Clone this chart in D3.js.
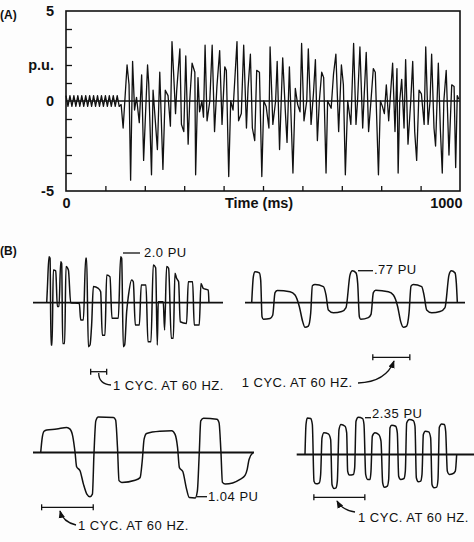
<!DOCTYPE html>
<meta charset="utf-8">
<html>
<head>
  <title>Arc voltage waveforms</title>
  <style>
    body { margin: 0; background: #fff; }
    svg { display: block; width: 474px; height: 542px; background: #fdfdfd; }
    .bold { font-family: 'Liberation Sans', Arial, sans-serif; font-weight: bold; font-size: 14.5px; fill: #111; }
    .tag { font-family: 'Liberation Sans', Arial, sans-serif; font-weight: bold; font-size: 12px; fill: #111; }
    .note { font-family: 'Liberation Sans', Arial, sans-serif; font-size: 13px; letter-spacing: 0.5px; fill: #111; }
    .trace { fill: none; stroke: #111; stroke-width: 1.3px; stroke-linejoin: round; }
    .btrace { fill: none; stroke: #111; stroke-width: 1.5px; stroke-linejoin: round; }
    .base { stroke: #111; stroke-width: 1.8px; }
    .thin { fill: none; stroke: #111; stroke-width: 1.3px; }
  </style>
  <script src="https://d3js.org/d3.v7.min.js"></script>
</head>
<body>
<svg></svg>
<script>

  // ---- panel A: p.u. voltage against time (ms), read as turning points ----
  var aTimes = [0,5,10,15,20,25,30,35,40,45,50,55,60,65,70,75,80,85,90,95,100,105,110,115,120,125,130,135,140,
    145,155,160,164,169,174,179,186,192,197,207,210,217,221,227,232,238,246,252,259,265,269,273,278,281,289,
    293,299,304,310,314,320,327,329,335,339,345,349,353,358,365,371,377,383,390,396,403,407,413,418,424,
    434,438,445,451,458,462,468,473,479,484,491,497,502,508,515,518,525,532,536,542,550,557,561,567,576,
    582,588,594,598,604,611,615,622,628,633,638,643,649,654,660,664,673,679,685,692,699,704,709,715,723,
    730,736,740,746,753,757,762,768,774,780,785,793,798,803,808,813,819,829,835,840,843,847,852,858,862,
    868,875,880,885,890,896,902,909,913,919,924,928,934,938,945,950,955,959,965,972,979,985,989,993,997];
  var aValues = [0.3,-0.3,0.3,-0.3,0.3,-0.3,0.3,-0.3,0.3,-0.3,0.3,-0.3,0.3,-0.3,0.3,-0.3,0.3,-0.3,0.3,-0.3,0.3,-0.3,0.3,-0.3,0.3,-0.3,0.3,-0.3,-0.2,
    -1.5,2.0,0.9,-4.4,2.2,-0.5,0.2,-1.2,1.45,-3.3,2.0,0.95,-4.1,0.6,-1.2,-2.7,1.6,-3.8,0.6,0.3,-1.4,3.3,
    1.6,-0.7,0.6,2.9,-1.3,-1.7,2.5,-2.4,0,2.1,1.6,-4.1,1.3,-0.6,0,-0.9,3.1,-1.1,0,3.1,-1.7,0.8,2.8,-1.3,
    1.9,1.7,-4.2,0,-0.5,3.3,-1.1,-0.7,3.1,-1.5,0.7,2.6,-1.5,-2.2,1.7,1.6,-4.2,0,-0.3,-1.5,3.0,-1.3,0,2.2,
    -2.7,2.4,-0.7,-2.3,1.9,-4.0,0.7,-0.2,-0.6,3.2,-1.1,0,2.9,-1.3,0.4,2.3,-2.2,0,1.6,1.3,-4.0,0,-0.4,1.5,
    2.6,-1.7,2.0,0.9,-4.1,0,-1.3,3.2,-1.3,0,3.0,-1.5,0.4,2.7,-1.7,0,1.8,1.6,-4.1,0,-0.3,-0.7,0.9,-1.1,2.1,
    -1.7,1.8,-4.0,0,1.2,-1.5,2.3,-2.4,0,2.2,-1.7,-3.3,0.6,0.4,-1.3,3.0,-1.3,0,2.6,-1.5,-2.5,2.1,-1.5,-4.0,
    0,1.7,-3.0,0.9,0.8,-3.7,0.3,0.1];

  var yTickValues = [-4, -3, -2, -1, 1, 2, 3, 4];
  var yLabelValues = [5, 2, 0, -5];
  var yLabelText = ["5", "p.u.", "0", "-5"];
  var xTickValues = [100, 200, 300, 400, 500, 600, 700, 800, 900];
  var xLabelValues = [0, 1000];
  var xTitle = "Time (ms)";

  // ---- panel B: four traces, time in ms and value in PU ----
  var b1Times = [0,0.7,2.4,3.5,4.5,5.6,6.9,9.4,11.1,12.8,14.6,15.6,16.7,18.7,20.1,22.6,25.0,34.0,35.4,38.2,
    40.6,41.6,43.4,45.1,46.8,48.6,53.8,56.2,57.9,60.7,62.5,65.9,68.0,74.6,77.0,78.1,79.8,81.2,83.3,85.0,
    88.5,90.2,92.3,96.5,98.5,103.4,105.5,108.6,111.0,113.5,115.2,116.2,121.4,122.8,124.9,127.0,129.8,
    131.9,133.6,135.3,137.4,139.1,145.7,147.5,152.0,153.7,158.9,160.7,163.1,168.3,169.0];
  var b1Values = [0,0.62,2.0,1.93,-1.84,-1.84,1.42,1.38,-0.17,-0.17,1.78,1.71,-1.77,-1.77,1.57,1.42,0,-0.03,
    -0.75,-0.75,1.93,1.93,-1.91,-1.84,-0.97,0.70,0.62,0.48,-1.41,-1.41,1.20,1.13,-0.68,-0.68,2.0,1.93,
    -1.91,-1.84,-0.39,0.26,0.99,0.91,-0.97,-0.97,0.77,0.77,-1.70,-1.70,1.64,1.52,-1.84,0.04,0.04,-1.19,
    1.57,1.49,-1.55,-1.55,1.28,1.06,0.91,-0.83,-0.90,0.91,0.91,-0.97,-0.97,0.84,0.62,0.55,0];

  var b2Times = [0,0.75,1.5,3.45,4.05,4.65,5.25,8.25,9.45,10.5,11.55,17.25,19.5,21.45,22.95,24,25.5,26.55,
    27.3,28.5,32.25,33.45,34.5,36.75,40.5,42.45,44.25,45.3,46.95,47.7,48.45,49.05,52.5,53.7,54.75,55.8,
    61.5,63.75,65.7,67.05,68.25,69.75,70.8,71.7,72.75,76.5,77.55,78.75,81,84.75,87,88.8,89.85,91.5,92.1,92.55];
  var b2Values = [0,0.65,0.77,0.74,0.56,-0.35,-0.41,-0.39,-0.31,0.25,0.30,0.27,0.19,-0.10,-0.47,-0.61,-0.58,
    -0.26,0.42,0.45,0.40,0.19,-0.18,-0.25,-0.22,-0.12,0.69,0.79,0.74,0.48,-0.35,-0.41,-0.37,-0.29,0.25,
    0.31,0.27,0.19,-0.10,-0.47,-0.61,-0.58,-0.26,0.41,0.45,0.40,0.19,-0.18,-0.25,-0.22,-0.12,0.69,0.79,
    0.74,0.48,0];

  var b3Times = [0,0.43,1.08,1.94,5.17,8.4,9.48,10.34,11.1,11.6,12.7,13.8,14.9,15.9,16.7,17.2,17.8,18.6,
    23.5,24.2,24.8,25.3,26.2,30.5,32.1,32.8,33.4,34.2,38.5,42.3,43.4,44.2,44.8,45.9,47.0,48.0,49.9,50.6,
    51.2,51.7,52.6,56.9,57.6,58.2,58.7,59.6,64.4,66.0,66.7,67.3,68.6];
  var b3Values = [0,0.31,0.49,0.52,0.54,0.58,0.54,0.38,0,-0.33,-0.42,-0.73,-0.96,-1.02,-0.96,-0.04,0.73,0.82,
    0.81,0.75,0.12,-0.65,-0.69,-0.64,-0.58,-0.19,0.31,0.44,0.49,0.50,0.42,0.12,-0.35,-0.44,-0.81,-1.04,
    -1.05,-0.89,-0.04,0.73,0.79,0.77,0.69,0.04,-0.69,-0.73,-0.62,-0.53,-0.39,-0.16,0];

  var b4Times = [0,0.33,0.76,1.85,2.40,2.94,3.60,4.69,5.12,5.56,6.21,7.63,8.39,8.83,9.48,10.14,10.57,11.12,
    11.77,13.08,13.63,13.95,14.50,15.81,16.24,16.68,17.44,18.86,19.29,19.84,20.49,21.26,21.58,22.02,22.89,
    24.09,24.85,25.40,25.94,26.92,27.36,27.80,28.34,29.65,30.19,30.63,31.28,32.37,32.81,33.25,34.12,35.43,
    35.97,36.41,37.06,37.82,38.26,38.70,39.35,40.44,41.09,41.53,42.18,43.06,43.49,43.93,44.69,45.56,46.00,
    46.54,47.20,48.29,49.16,49.60];
  var b4Values = [0,1.91,2.33,2.29,1.91,-1.70,-1.87,-1.80,-1.27,1.06,1.38,1.31,0.95,-1.91,-2.16,-2.12,-1.70,
    1.59,1.91,1.80,1.38,-1.06,-1.31,-1.27,-0.85,2.12,2.37,2.29,1.91,-1.27,-1.59,-1.59,-1.06,1.17,1.38,1.27,
    0.85,-1.80,-2.08,-2.01,-1.59,1.70,1.87,1.80,1.38,-1.38,-1.59,-1.53,-1.06,2.01,2.23,2.16,1.80,-1.48,
    -1.74,-1.70,-1.27,1.27,1.48,1.44,1.06,-1.91,-2.12,-2.08,-1.59,1.74,1.95,1.91,1.48,-1.06,-1.27,-1.23,
    -1.06,0];

  var peakNotes = ["2.0 PU", ".77 PU", "1.04 PU", "2.35 PU"];
  var cycleNote = "1 CYC. AT 60 HZ.";
  var cycleMs = 1000 / 60;

  var svg = d3.select("svg").attr("viewBox", "0 0 474 542");

  svg.append("defs").append("marker")
    .attr("id", "arrow")
    .attr("viewBox", "0 0 10 10")
    .attr("refX", 9).attr("refY", 5)
    .attr("markerWidth", 6).attr("markerHeight", 6)
    .attr("orient", "auto")
    .append("path").attr("d", "M0,1 L10,5 L0,9 z").attr("fill", "#111");

  // ================= panel A =================
  var xA = d3.scaleLinear().domain([0, 1000]).range([66, 460]);
  var yA = d3.scaleLinear().domain([-5, 5]).range([191, 11]);

  svg.append("text").attr("class", "tag").attr("x", 0).attr("y", 19).text("(A)");

  // inward ticks on the left and bottom
  svg.append("g")
    .attr("transform", "translate(66,0)")
    .call(d3.axisLeft(yA).tickValues(yTickValues).tickSize(-6).tickFormat(""))
    .call(function(g) { g.select(".domain").remove(); })
    .selectAll("line").attr("stroke", "#111").attr("stroke-width", 1.3);

  svg.append("g")
    .attr("transform", "translate(0,191)")
    .call(d3.axisBottom(xA).tickValues(xTickValues).tickSize(-5).tickFormat(""))
    .call(function(g) { g.select(".domain").remove(); })
    .selectAll("line").attr("stroke", "#111").attr("stroke-width", 1.3);

  // tick labels
  var yLab = svg.append("g")
    .attr("transform", "translate(66,0)")
    .call(d3.axisLeft(yA).tickValues(yLabelValues).tickSize(0).tickPadding(12)
      .tickFormat(function(d, i) { return yLabelText[i]; }));
  yLab.select(".domain").remove();
  yLab.selectAll("text").attr("class", "bold").attr("font-family", null).attr("font-size", null);

  var xLab = svg.append("g")
    .attr("transform", "translate(0,191)")
    .call(d3.axisBottom(xA).tickValues(xLabelValues).tickSize(0).tickPadding(7)
      .tickFormat(function(d) { return String(d); }));
  xLab.select(".domain").remove();
  xLab.selectAll("text").attr("class", "bold").attr("font-family", null).attr("font-size", null)
    .attr("text-anchor", function(d) { return d === 1000 ? "end" : "middle"; })
    .attr("x", function(d) { return d === 1000 ? 2 : 0; });

  svg.append("text").attr("class", "bold")
    .attr("x", xA(490)).attr("y", 208)
    .attr("text-anchor", "middle")
    .text(xTitle);

  // zero line and waveform
  svg.append("line").attr("class", "thin")
    .attr("x1", xA(0)).attr("x2", xA(1000))
    .attr("y1", yA(0)).attr("y2", yA(0));

  var aPoints = aTimes.map(function(t, i) { return [t, aValues[i]]; });
  svg.append("path").datum(aPoints)
    .attr("class", "trace")
    .attr("d", d3.line().x(function(d) { return xA(d[0]); }).y(function(d) { return yA(d[1]); }));

  // frame
  svg.append("rect")
    .attr("x", 66).attr("y", 11).attr("width", 394).attr("height", 180)
    .attr("fill", "none").attr("stroke", "#111").attr("stroke-width", 1.6);

  // ================= panel B =================
  svg.append("text").attr("class", "tag").attr("x", 0).attr("y", 255).text("(B)");

  var panels = [
    { t: b1Times, v: b1Values, x0: 46.7, pxPerMs: 0.96, zero: 302.7, pxPerPu: 23, axis: [33, 223],
      note: peakNotes[0], lead: [123, 140, 253], noteAt: [144, 257],
      barT: 45.8, barY: 371.7, text: [113, 390], hook: "M98.7,373 Q98.7,384 111,385", arrow: false },
    { t: b2Times, v: b2Values, x0: 251.7, pxPerMs: 2.222, zero: 302.7, pxPerPu: 40.3, axis: [245, 465],
      note: peakNotes[1], lead: [358, 373, 270.7], noteAt: [374, 274],
      barT: 54.5, barY: 357.3, text: [241.7, 386.7], hook: "M358,383 Q386,382 394,361", arrow: true },
    { t: b3Times, v: b3Values, x0: 40.7, pxPerMs: 3.096, zero: 452.5, pxPerPu: 43.3, axis: [33, 254],
      note: peakNotes[2], lead: [197, 207, 496.7], noteAt: [208, 501],
      barT: 0.3, barY: 507.3, text: [78, 530], hook: "M76,525 Q63,522 60,511", arrow: true },
    { t: b4Times, v: b4Values, x0: 305, pxPerMs: 3.058, zero: 454.5, pxPerPu: 15.7, axis: [296.7, 474],
      note: peakNotes[3], lead: [365, 371, 417.7], noteAt: [372, 417.7],
      barT: 2.9, barY: 497.3, text: [358, 521.7], hook: "M355,512 Q342,510 337,501", arrow: true }
  ];

  panels.forEach(function(p) {
    var tMax = d3.max(p.t);
    var x = d3.scaleLinear().domain([0, tMax]).range([p.x0, p.x0 + tMax * p.pxPerMs]);
    var y = d3.scaleLinear().domain([-1, 1]).range([p.zero + p.pxPerPu, p.zero - p.pxPerPu]);
    var g = svg.append("g");

    // base line through zero
    g.append("line").attr("class", "base")
      .attr("x1", p.axis[0]).attr("x2", p.axis[1])
      .attr("y1", y(0)).attr("y2", y(0));

    var pts = p.t.map(function(t, i) { return [t, p.v[i]]; });
    g.append("path").datum(pts)
      .attr("class", "btrace")
      .attr("d", d3.line().curve(d3.curveMonotoneX)
        .x(function(d) { return x(d[0]); })
        .y(function(d) { return y(d[1]); }));

    // peak value note with its leader
    g.append("line").attr("class", "thin").attr("stroke-width", 1.6)
      .attr("x1", p.lead[0]).attr("x2", p.lead[1])
      .attr("y1", p.lead[2]).attr("y2", p.lead[2]);
    g.append("text").attr("class", "note")
      .attr("x", p.noteAt[0]).attr("y", p.noteAt[1])
      .text(p.note);

    // one cycle scale bar
    var bx1 = x(p.barT), bx2 = x(p.barT + cycleMs);
    g.append("line").attr("class", "thin").attr("stroke-width", 1.6)
      .attr("x1", bx1).attr("x2", bx2).attr("y1", p.barY).attr("y2", p.barY);
    [bx1, bx2].forEach(function(bx) {
      g.append("line").attr("class", "thin").attr("stroke-width", 1.4)
        .attr("x1", bx).attr("x2", bx).attr("y1", p.barY - 3).attr("y2", p.barY + 3);
    });

    g.append("path").attr("class", "thin").attr("d", p.hook)
      .attr("marker-end", p.arrow ? "url(#arrow)" : null);

    g.append("text").attr("class", "note")
      .attr("x", p.text[0]).attr("y", p.text[1])
      .text(cycleNote);
  });

</script>
</body>
</html>
